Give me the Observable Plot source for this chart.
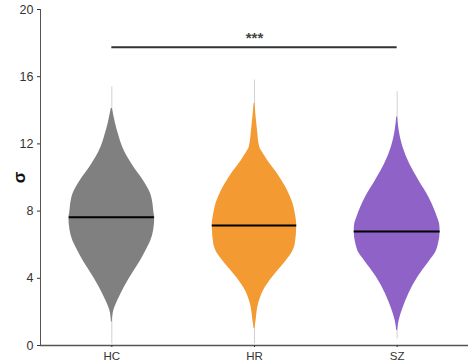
<!DOCTYPE html>
<html>
<head>
<meta charset="utf-8">
<script src="https://cdn.jsdelivr.net/npm/d3@7"></script>
<script src="https://cdn.jsdelivr.net/npm/@observablehq/plot@0.6"></script>
<style>
  html, body { margin: 0; padding: 0; background: #fff; }
  svg { font-family: "Liberation Sans", Arial, sans-serif; }
</style>
</head>
<body>
<div id="chart"></div>
<script>
// Groups and colours
const groups = ["HC", "HR", "SZ"];
const colors = ["#808080", "#f39a33", "#8e62c6"];

// Violin outlines: sigma value and half-width (in category-step units)
const hcSigma = [14.1, 13.2, 12.5, 11.8, 10.8, 9.8, 9.03, 8.4, 7.84, 7.64, 6.85, 6.2, 5.65, 5.0, 4.46, 3.47, 2.68, 2.08, 1.4];
const hcWidth = [0.004, 0.026, 0.049, 0.076, 0.14, 0.222, 0.272, 0.289, 0.296, 0.301, 0.293, 0.272, 0.24, 0.198, 0.158, 0.088, 0.042, 0.014, 0.003];

const hrSigma = [14.4, 12.8, 11.8, 11.4, 11.0, 10.2, 9.2, 8.5, 7.84, 7.14, 6.05, 5.5, 5.06, 4.07, 3.27, 2.48, 1.49, 1.0];
const hrWidth = [0.003, 0.021, 0.037, 0.063, 0.093, 0.163, 0.233, 0.268, 0.286, 0.296, 0.286, 0.262, 0.224, 0.128, 0.064, 0.029, 0.011, 0.003];

const szSigma = [13.6, 12.8, 11.8, 10.8, 9.82, 8.83, 7.64, 7.2, 6.79, 6.05, 5.5, 5.06, 4.07, 3.08, 2.08, 1.49, 0.89];
const szWidth = [0.003, 0.014, 0.041, 0.088, 0.152, 0.222, 0.282, 0.298, 0.301, 0.29, 0.268, 0.23, 0.146, 0.082, 0.035, 0.014, 0.003];

// Medians and their half-widths
const medians = [7.64, 7.14, 6.79];
const medianWidth = [0.298, 0.296, 0.301];

// Whisker (min / max) extents
const mins = [0.1, 0.1, 0.4];
const maxs = [15.4, 15.8, 15.1];

// Significance
const sigLevel = 17.75;
const sigLabel = "***";
const yTicks = [0, 4, 8, 12, 16, 20];

const sigmas = [hcSigma, hrSigma, szSigma];
const widths = [hcWidth, hrWidth, szWidth];

const violin = [];
groups.forEach((g, i) => {
  sigmas[i].forEach((s, j) => violin.push({group: g, gi: i, sigma: s, w: widths[i][j]}));
});
const stats = groups.map((g, i) => ({group: g, gi: i, median: medians[i], mw: medianWidth[i], min: mins[i], max: maxs[i], color: colors[i]}));

const chart = Plot.plot({
  width: 474,
  height: 363,
  marginLeft: 40,
  marginRight: 6,
  marginTop: 9,
  marginBottom: 18,
  style: {fontFamily: "Liberation Sans, Arial, sans-serif", background: "#fff"},
  x: {domain: [-0.5, 2.5]},
  y: {domain: [0, 20]},
  color: {domain: groups, range: colors},
  marks: [
    // whiskers
    Plot.ruleX(stats, {x: "gi", y1: "min", y2: "max", stroke: "#d0d0d0", strokeWidth: 1}),
    // violins
    Plot.areaX(violin, {
      y: "sigma",
      x1: d => d.gi - d.w,
      x2: d => d.gi + d.w,
      z: "group",
      fill: "group",
      curve: "monotone-y"
    }),
    // medians
    Plot.ruleY(stats, {y: "median", x1: d => d.gi - d.mw, x2: d => d.gi + d.mw, stroke: "#000", strokeWidth: 2}),
    // axes lines
    Plot.ruleX([-0.5], {y1: 0, y2: 20, stroke: "#555", strokeWidth: 1}),
    Plot.ruleY([0], {x1: -0.5, x2: 2.5, stroke: "#555", strokeWidth: 1.5}),
    Plot.axisY({
      ticks: yTicks,
      tickSize: 3,
      tickPadding: 4,
      fontSize: 12.5,
      color: "#333",
      label: "σ",
      labelAnchor: "center",
      labelArrow: "none",
      labelOffset: 28
    }),
    Plot.axisX({
      ticks: [0, 1, 2],
      tickFormat: i => groups[i],
      tickSize: 2,
      tickPadding: 4,
      fontSize: 11.5,
      color: "#333",
      label: null
    }),
    // significance bar
    Plot.ruleY([sigLevel], {x1: 0, x2: 2, stroke: "#333", strokeWidth: 2}),
    Plot.text([sigLabel], {x: 1, y: sigLevel, text: d => d, dy: -9, fontSize: 15, fontWeight: "bold", fill: "#444"})
  ]
});

document.getElementById("chart").appendChild(chart);
// make the y label bold and larger
chart.querySelectorAll("g[aria-label='y-axis label'] text").forEach(t => {
  t.setAttribute("font-weight", "bold");
  t.setAttribute("font-size", "17");
  t.setAttribute("fill", "#111");
});
</script>
</body>
</html>
